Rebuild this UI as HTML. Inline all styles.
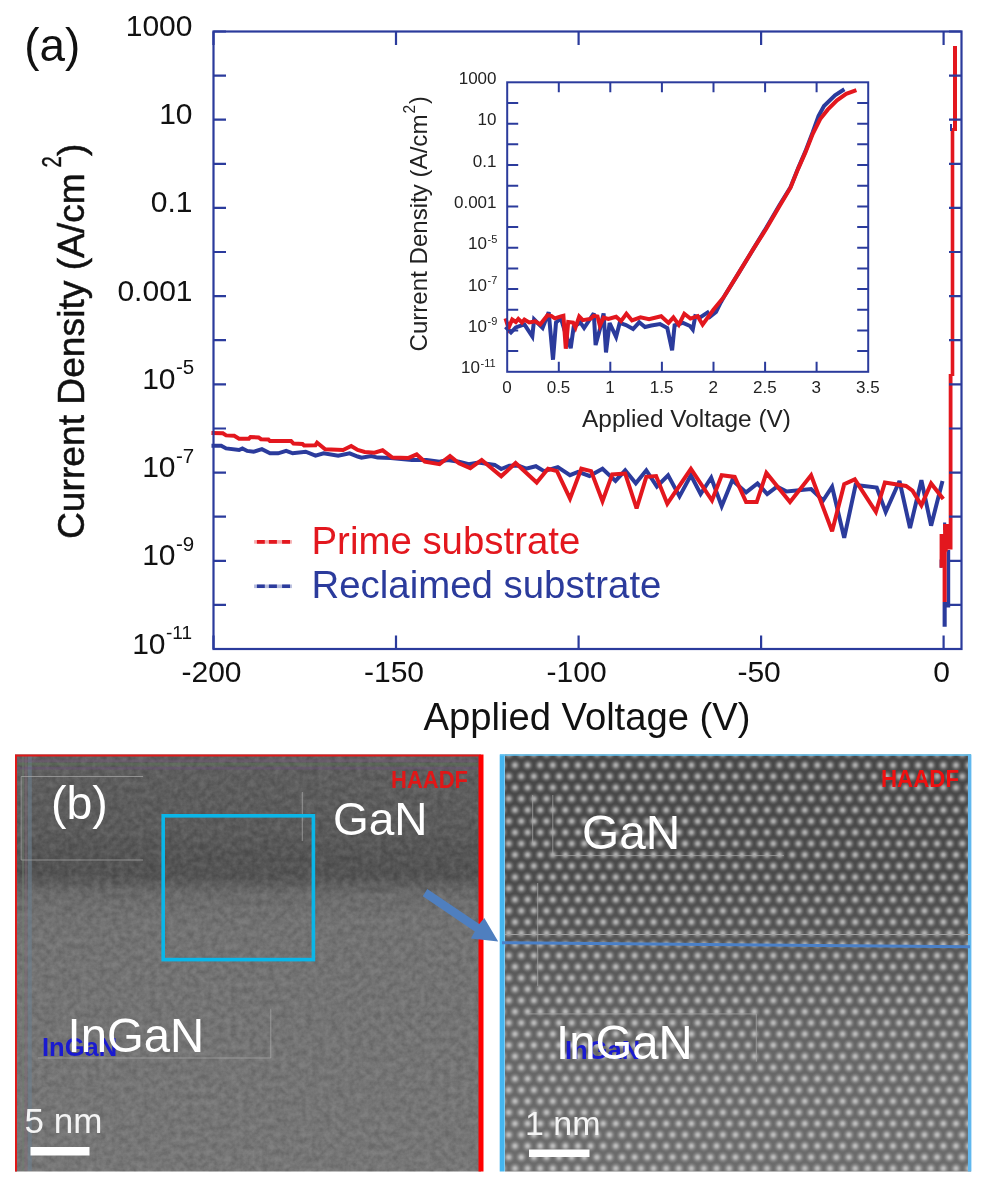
<!DOCTYPE html>
<html><head><meta charset="utf-8"><style>
html,body{margin:0;padding:0;background:#fff;width:985px;height:1185px;overflow:hidden}
svg{display:block;font-family:"Liberation Sans",sans-serif}
</style></head><body>
<svg width="985" height="1185" viewBox="0 0 985 1185">
<text x="192.5" y="36.0" font-size="30" text-anchor="end" fill="#111">1000</text>
<text x="192.5" y="124.2" font-size="30" text-anchor="end" fill="#111">10</text>
<text x="192.5" y="212.4" font-size="30" text-anchor="end" fill="#111">0.1</text>
<text x="192.5" y="300.6" font-size="30" text-anchor="end" fill="#111">0.001</text>
<text x="175.5" y="388.9" font-size="30" text-anchor="end" fill="#111">10</text>
<text x="176.0" y="374.4" font-size="20.5" fill="#111">-5</text>
<text x="175.5" y="477.1" font-size="30" text-anchor="end" fill="#111">10</text>
<text x="176.0" y="462.6" font-size="20.5" fill="#111">-7</text>
<text x="175.5" y="565.3" font-size="30" text-anchor="end" fill="#111">10</text>
<text x="176.0" y="550.8" font-size="20.5" fill="#111">-9</text>
<text x="165.5" y="653.5" font-size="30" text-anchor="end" fill="#111">10</text>
<text x="166.0" y="639.0" font-size="19" fill="#111">-11</text>
<text x="211.5" y="682" font-size="30" text-anchor="middle" fill="#111">-200</text>
<text x="394.0" y="682" font-size="30" text-anchor="middle" fill="#111">-150</text>
<text x="576.6" y="682" font-size="30" text-anchor="middle" fill="#111">-100</text>
<text x="759.1" y="682" font-size="30" text-anchor="middle" fill="#111">-50</text>
<text x="941.6" y="682" font-size="30" text-anchor="middle" fill="#111">0</text>
<text x="587" y="729.5" font-size="38.2" text-anchor="middle" fill="#111">Applied Voltage (V)</text>
<g transform="translate(84 539) rotate(-90)" fill="#111" stroke="#111" stroke-width="0.5"><text x="0" y="0" font-size="37.2">Current Density (A/cm</text><text transform="translate(371.5 -23.3) scale(0.75 1)" font-size="27" stroke-width="0.4">2</text><text x="383" y="0" font-size="37.2">)</text></g>
<text x="24.2" y="61" font-size="45.8" fill="#111">(a)</text>
<rect x="254.1" y="540.1" width="37.8" height="3.6" fill="#e3171e" opacity="0.35"/><path d="M256.9 540.1h7.9v3.6h-7.9zM268.9 540.1h8v3.6h-8zM282.1 540.1h7.9v3.6h-7.9z" fill="#e3171e"/>
<text x="311.5" y="554.2" font-size="38.4" fill="#e3171e">Prime substrate</text>
<rect x="254.1" y="584.5" width="37.8" height="3.6" fill="#2b3b9c" opacity="0.35"/><path d="M256.9 584.5h7.9v3.6h-7.9zM268.9 584.5h8v3.6h-8zM282.1 584.5h7.9v3.6h-7.9z" fill="#2b3b9c"/>
<text x="311.5" y="597.6" font-size="38.4" fill="#2b3b9c">Reclaimed substrate</text>
<path d="M211.5 445.7 L221.2 445.7 L226.1 448.4 L239.1 450.0 L242.4 448.4 L247.2 450.9 L253.7 451.7 L261.9 449.2 L270.0 453.3 L278.1 453.3 L286.2 450.9 L292.7 453.3 L305.7 451.7 L315.5 455.7 L323.6 453.3 L338.2 455.7 L349.6 453.3 L357.7 456.5 L361.5 457.6 L371.2 456.0 L377.7 457.6 L390.7 457.9 L411.9 460.0 L426.5 460.0 L439.5 461.7 L447.6 460.0 L459.0 461.7 L468.7 464.1 L478.5 462.5 L494.7 464.9 L501.2 469.0 L509.3 465.7 L518.0 465.4 L526.1 468.7 L535.9 466.2 L544.0 471.1 L557.8 467.1 L570.0 475.2 L578.1 471.9 L589.5 476.0 L602.5 468.7 L615.5 480.9 L625.2 470.3 L635.8 483.3 L646.3 470.3 L656.9 486.5 L668.1 475.3 L679.5 496.4 L690.9 475.3 L700.6 494.0 L711.2 477.7 L721.7 506.2 L732.3 480.2 L746.1 492.4 L757.5 483.4 L767.2 494.0 L777.0 486.7 L786.7 491.5 L811.1 489.1 L823.1 500.5 L832.1 486.7 L844.2 537.8 L855.6 485.0 L876.7 487.5 L885.7 511.9 L899.5 481.0 L910.0 528.1 L921.4 480.2 L931.1 525.7 L942.5 481.0" fill="none" stroke="#2b3b9c" stroke-width="4" stroke-linejoin="miter" stroke-miterlimit="3"/>
<path d="M211.5 433.0 L222.9 433.3 L226.1 435.4 L234.2 435.8 L239.1 438.7 L248.9 438.7 L250.5 437.0 L258.6 437.4 L261.0 439.2 L268.4 439.5 L270.0 441.1 L291.1 441.1 L293.5 443.6 L302.5 444.0 L304.1 445.5 L315.5 445.2 L317.1 442.7 L325.2 449.2 L343.1 450.0 L351.2 446.0 L357.7 450.0 L364.7 451.9 L374.5 452.7 L382.6 450.3 L392.4 457.6 L408.6 457.9 L416.7 454.4 L424.8 461.7 L439.5 464.1 L450.0 456.0 L459.0 463.3 L470.3 468.2 L481.7 460.0 L501.2 476.3 L515.6 463.0 L536.7 482.5 L548.0 468.7 L557.0 471.1 L570.0 498.7 L581.3 468.7 L591.1 471.1 L602.5 501.2 L612.2 474.4 L625.2 473.6 L636.6 508.5 L646.3 476.8 L656.1 476.0 L667.3 503.7 L690.9 468.8 L712.0 500.5 L721.7 475.3 L734.7 476.9 L746.1 502.1 L756.7 502.1 L766.4 472.9 L790.0 502.1 L811.1 475.3 L832.1 531.3 L844.2 484.2 L854.8 479.4 L875.9 511.9 L884.9 482.6 L906.0 485.9 L912.5 490.7 L921.4 505.4 L931.1 483.4 L943.3 498.9" fill="none" stroke="#e3171e" stroke-width="4" stroke-linejoin="miter" stroke-miterlimit="3"/>
<path d="M943.1 522.6 H946.2 V530 H943.1 Z M939.6 559.6 H942.3 V567.7 H939.6 Z M946.7 550 H950.2 V607 H946.7 Z M942.6 602 H950.2 V607.5 H946.7 V626.8 H942.6 Z" fill="#2b3b9c"/>
<path d="M948.7 374 H952.5 V549.5 H947.7 V551.5 H946.7 V602 H942.6 V567.7 H939.6 V534 H943.1 V524 H948.7 Z" fill="#e3171e"/>
<path d="M950.7 128 H954.3 V376 H950.7 Z" fill="#e3171e"/>
<path d="M951 124 V131" stroke="#2b3b9c" stroke-width="2" fill="none"/>
<path d="M953 46 H957 V131 H953 Z" fill="#e3171e"/>
<rect x="213.5" y="31.5" width="748.0" height="617.5" fill="none" stroke="#2b3b9c" stroke-width="2.2"/>
<path d="M213.5 31.5h12.5M961.5 31.5h-12.5M213.5 75.6h12.5M961.5 75.6h-12.5M213.5 119.7h12.5M961.5 119.7h-12.5M213.5 163.8h12.5M961.5 163.8h-12.5M213.5 207.9h12.5M961.5 207.9h-12.5M213.5 252.0h12.5M961.5 252.0h-12.5M213.5 296.1h12.5M961.5 296.1h-12.5M213.5 340.2h12.5M961.5 340.2h-12.5M213.5 384.4h12.5M961.5 384.4h-12.5M213.5 428.5h12.5M961.5 428.5h-12.5M213.5 472.6h12.5M961.5 472.6h-12.5M213.5 516.7h12.5M961.5 516.7h-12.5M213.5 560.8h12.5M961.5 560.8h-12.5M213.5 604.9h12.5M961.5 604.9h-12.5M213.5 649.0h12.5M961.5 649.0h-12.5M213.5 649.0v-13.5M213.5 31.5v13.5M396.0 649.0v-13.5M396.0 31.5v13.5M578.6 649.0v-13.5M578.6 31.5v13.5M761.1 649.0v-13.5M761.1 31.5v13.5M943.6 649.0v-13.5M943.6 31.5v13.5" stroke="#2b3b9c" stroke-width="2.2" fill="none"/>
<text x="496.5" y="83.8" font-size="17" text-anchor="end" fill="#222">1000</text>
<text x="496.5" y="125.2" font-size="17" text-anchor="end" fill="#222">10</text>
<text x="496.5" y="166.5" font-size="17" text-anchor="end" fill="#222">0.1</text>
<text x="496.5" y="207.9" font-size="17" text-anchor="end" fill="#222">0.001</text>
<text x="487.0" y="249.2" font-size="17" text-anchor="end" fill="#222">10</text>
<text x="487.5" y="242.7" font-size="11" fill="#222">-5</text>
<text x="487.0" y="290.6" font-size="17" text-anchor="end" fill="#222">10</text>
<text x="487.5" y="284.1" font-size="11" fill="#222">-7</text>
<text x="487.0" y="331.9" font-size="17" text-anchor="end" fill="#222">10</text>
<text x="487.5" y="325.4" font-size="11" fill="#222">-9</text>
<text x="480.0" y="373.3" font-size="17" text-anchor="end" fill="#222">10</text>
<text x="480.5" y="366.8" font-size="11" fill="#222">-11</text>
<text x="506.9" y="393" font-size="17" text-anchor="middle" fill="#222">0</text>
<text x="558.5" y="393" font-size="17" text-anchor="middle" fill="#222">0.5</text>
<text x="610.0" y="393" font-size="17" text-anchor="middle" fill="#222">1</text>
<text x="661.6" y="393" font-size="17" text-anchor="middle" fill="#222">1.5</text>
<text x="713.2" y="393" font-size="17" text-anchor="middle" fill="#222">2</text>
<text x="764.8" y="393" font-size="17" text-anchor="middle" fill="#222">2.5</text>
<text x="816.3" y="393" font-size="17" text-anchor="middle" fill="#222">3</text>
<text x="867.9" y="393" font-size="17" text-anchor="middle" fill="#222">3.5</text>
<text x="686.5" y="427.2" font-size="24.4" text-anchor="middle" fill="#222">Applied Voltage (V)</text>
<g transform="translate(427 351.5) rotate(-90)" fill="#222"><text x="0" y="0" font-size="24.1">Current Density (A/cm</text><text transform="translate(238 -12.5) scale(0.9 1)" font-size="17.3">2</text><text x="247.5" y="0" font-size="23.3">)</text></g>
<path d="M505.5 326.8 L511.0 332.3 L515.8 327.4 L524.4 324.4 L532.3 336.5 L534.1 319.5 L542.6 328.0 L548.7 312.2 L553.0 359.7 L556.0 322.5 L560.9 318.3 L564.6 330.5 L570.7 348.1 L573.7 326.8 L580.4 322.5 L584.1 328.0 L593.8 313.4 L595.6 345.1 L599.9 329.2 L603.6 313.4 L606.0 352.4 L609.6 323.1 L616.1 336.9 L619.7 322.9 L626.0 325.0 L633.1 329.0 L639.2 322.3 L645.0 327.0 L651.4 325.5 L660.0 324.0 L667.3 328.0 L672.1 350.3 L674.6 325.3 L683.1 322.9 L690.0 326.0 L692.8 329.6 L695.3 316.2 L700.2 317.4 L707.5 312.5 L710.0 316.8 L716.0 311.9 L720.9 302.2 L723.7 297.2 L738.6 273.1 L753.4 248.9 L766.4 227.5 L779.4 205.2 L790.5 187.2 L798.0 168.6 L805.4 151.4 L812.8 132.0 L818.5 116.0 L824.0 106.0 L835.0 95.3 L844.4 89.3" fill="none" stroke="#2b3b9c" stroke-width="4" stroke-linejoin="miter" stroke-miterlimit="3"/>
<path d="M505.5 318.3 L508.5 328.0 L512.2 319.5 L515.8 322.0 L518.3 318.9 L521.9 322.5 L524.4 319.5 L529.2 322.5 L535.3 321.3 L540.2 324.4 L547.5 315.2 L551.2 315.8 L554.8 318.3 L560.9 316.4 L563.4 315.8 L565.8 348.7 L568.2 321.9 L573.1 322.5 L575.5 327.4 L579.2 316.4 L582.8 320.1 L590.2 318.9 L593.8 315.8 L597.5 316.4 L599.9 325.6 L603.6 317.7 L608.4 318.9 L616.1 316.8 L621.0 321.1 L626.4 313.8 L632.0 320.5 L640.5 317.4 L649.0 319.2 L661.2 316.2 L668.5 322.9 L673.4 317.4 L678.8 324.7 L684.3 313.8 L690.4 318.6 L697.7 316.2 L702.6 324.7 L713.6 309.5 L723.7 297.2 L738.6 273.1 L753.4 248.9 L766.4 228.5 L779.4 206.2 L790.5 187.7 L798.0 169.1 L805.4 152.4 L812.8 133.8 L820.2 119.0 L827.7 109.7 L837.0 100.4 L846.2 93.9 L856.4 90.2" fill="none" stroke="#e3171e" stroke-width="4" stroke-linejoin="miter" stroke-miterlimit="3"/>
<rect x="507.2" y="82.3" width="361.00000000000006" height="289.5" fill="none" stroke="#2b3b9c" stroke-width="2"/>
<path d="M507.2 103.0h11M868.2 103.0h-11M507.2 123.7h11M868.2 123.7h-11M507.2 144.3h11M868.2 144.3h-11M507.2 165.0h11M868.2 165.0h-11M507.2 185.7h11M868.2 185.7h-11M507.2 206.4h11M868.2 206.4h-11M507.2 227.1h11M868.2 227.1h-11M507.2 247.7h11M868.2 247.7h-11M507.2 268.4h11M868.2 268.4h-11M507.2 289.1h11M868.2 289.1h-11M507.2 309.8h11M868.2 309.8h-11M507.2 330.4h11M868.2 330.4h-11M507.2 351.1h11M868.2 351.1h-11M558.8 371.8v-10M558.8 82.3v10M610.3 371.8v-10M610.3 82.3v10M661.9 371.8v-10M661.9 82.3v10M713.5 371.8v-10M713.5 82.3v10M765.1 371.8v-10M765.1 82.3v10M816.6 371.8v-10M816.6 82.3v10" stroke="#2b3b9c" stroke-width="2" fill="none"/>
<defs>
<linearGradient id="lg" gradientUnits="userSpaceOnUse" x1="0" y1="754.5" x2="0" y2="1171.5">
<stop offset="0" stop-color="#5f5f5f"/>
<stop offset="0.18" stop-color="#5b5b5b"/>
<stop offset="0.24" stop-color="#555"/>
<stop offset="0.29" stop-color="#535353"/>
<stop offset="0.335" stop-color="#6b6b6b"/>
<stop offset="0.40" stop-color="#727272"/>
<stop offset="1" stop-color="#767676"/>
</linearGradient>
<radialGradient id="dot"><stop offset="0" stop-color="#fff" stop-opacity="0.58"/><stop offset="0.2" stop-color="#fff" stop-opacity="0.52"/><stop offset="0.4" stop-color="#fff" stop-opacity="0.35"/><stop offset="0.6" stop-color="#fff" stop-opacity="0.17"/><stop offset="0.8" stop-color="#fff" stop-opacity="0.06"/><stop offset="1" stop-color="#fff" stop-opacity="0"/></radialGradient>
<linearGradient id="rg" gradientUnits="userSpaceOnUse" x1="0" y1="754.5" x2="0" y2="1171.5">
<stop offset="0" stop-color="#474747"/>
<stop offset="0.3" stop-color="#4b4b4b"/>
<stop offset="0.45" stop-color="#565656"/>
<stop offset="0.7" stop-color="#666"/>
<stop offset="1" stop-color="#6c6c6c"/>
</linearGradient>
<pattern id="lat" x="508.7" y="759.6" width="12.6" height="22.4" patternUnits="userSpaceOnUse">
<circle cx="6.3" cy="5.6" r="6.2" fill="url(#dot)"/>
<circle cx="0" cy="16.8" r="6.2" fill="url(#dot)"/>
<circle cx="12.6" cy="16.8" r="6.2" fill="url(#dot)"/>
<circle cx="6.3" cy="-5.6" r="6.2" fill="url(#dot)"/>
<circle cx="6.3" cy="28" r="6.2" fill="url(#dot)"/>
<circle cx="0" cy="-5.6" r="0" fill="none"/>
</pattern>
</defs>
<rect x="15" y="754.5" width="466" height="417" fill="url(#lg)"/>
<filter id="nz" x="0" y="0" width="1" height="1" color-interpolation-filters="sRGB"><feTurbulence type="fractalNoise" baseFrequency="0.16" numOctaves="3" seed="11"/><feColorMatrix type="matrix" values="1.6 0 0 0 -0.3  1.6 0 0 0 -0.3  1.6 0 0 0 -0.3  0 0 0 0 1"/></filter>
<rect x="17" y="756.5" width="461" height="415" filter="url(#nz)" opacity="0.2" style="mix-blend-mode:soft-light"/>
<rect x="22" y="756" width="2" height="415" fill="#6d7d6d" opacity="0.5"/><rect x="24.7" y="756" width="2.6" height="415" fill="#806c78" opacity="0.5"/><rect x="27.8" y="756" width="4" height="415" fill="#6c8090" opacity="0.6"/>
<rect x="17" y="759.5" width="461" height="2.5" fill="#7a5a80" opacity="0.35"/><rect x="17" y="763" width="461" height="2.5" fill="#5a7a50" opacity="0.35"/><rect x="17" y="767" width="461" height="2.5" fill="#705080" opacity="0.35"/>
<path d="M16 1171.5 V755.5 H478.5" fill="none" stroke="#e01818" stroke-width="2"/>
<rect x="478.5" y="754.5" width="5" height="417" fill="#ff0000"/>
<path d="M143 776.5 H21.2 V860 H143 M302.3 792 V841" fill="none" stroke="#a8a8a8" stroke-width="0.9" opacity="0.8"/>
<path d="M270.8 1008.7 V1058 H37.8" fill="none" stroke="#a8a8a8" stroke-width="0.9" opacity="0.8"/>
<rect x="163.2" y="815.8" width="150.2" height="143.8" fill="none" stroke="#0ab6e8" stroke-width="3.6"/>
<text x="51" y="819" font-size="46.5" fill="#fff">(b)</text>
<text x="333" y="834.5" font-size="46" fill="#fff">GaN</text>
<text x="391" y="787.5" font-size="23.5" font-weight="bold" fill="#f01010" fill-opacity="0.9" textLength="77" lengthAdjust="spacingAndGlyphs">HAADF</text>
<text x="42" y="1056" font-size="25.5" font-weight="bold" fill="#1a1ad0">InGaN</text>
<text x="67.5" y="1052.2" font-size="47.3" fill="#fff">InGaN</text>
<text x="24.5" y="1132.8" font-size="35" fill="#f4f4f4">5 nm</text>
<rect x="30.5" y="1147" width="59" height="8.5" fill="#fff"/>
<rect x="505" y="754.5" width="466" height="417" fill="url(#rg)"/>
<rect x="505" y="754.5" width="466" height="417" fill="url(#lat)"/>
<rect x="499.7" y="754.5" width="5" height="417" fill="#45b6f0"/>
<rect x="967.9" y="754.5" width="3.5" height="417" fill="#62b8ee"/>
<rect x="500" y="754.3" width="471" height="1.5" fill="#60c0f0"/>
<path d="M552.8 795 V855.6 H784 M532.7 795 V843 M537.7 883 V986" fill="none" stroke="#a8a8a8" stroke-width="0.9" opacity="0.8"/>
<path d="M527.7 1013.9 H756.3 V1061.6" fill="none" stroke="#a8a8a8" stroke-width="0.9" opacity="0.8"/>
<path d="M505 934.5 H970" stroke="#a0a0a0" stroke-width="1"/>
<text x="582" y="848.8" font-size="47.8" fill="#fff">GaN</text>
<text x="881" y="786.8" font-size="23.5" font-weight="bold" fill="#f01010" textLength="78" lengthAdjust="spacingAndGlyphs">HAADF</text>
<text x="565" y="1059" font-size="25.5" font-weight="bold" fill="#1a1ad0">InGaN</text>
<text x="556" y="1059" font-size="47.3" fill="#fff">InGaN</text>
<text x="525" y="1134.5" font-size="34" fill="#f4f4f4">1 nm</text>
<rect x="529" y="1149.5" width="60.5" height="7.5" fill="#fff"/>
<path d="M502 942.8 L970 946.8" stroke="#4a80c8" stroke-width="3"/>
<path d="M427.3 888.9 L479.2 924.1 L484.3 918 L498.2 941.4 L470.9 938.6 L474.8 931.4 L422.8 896.2 Z" fill="#4f7fbf"/>
</svg></body></html>
